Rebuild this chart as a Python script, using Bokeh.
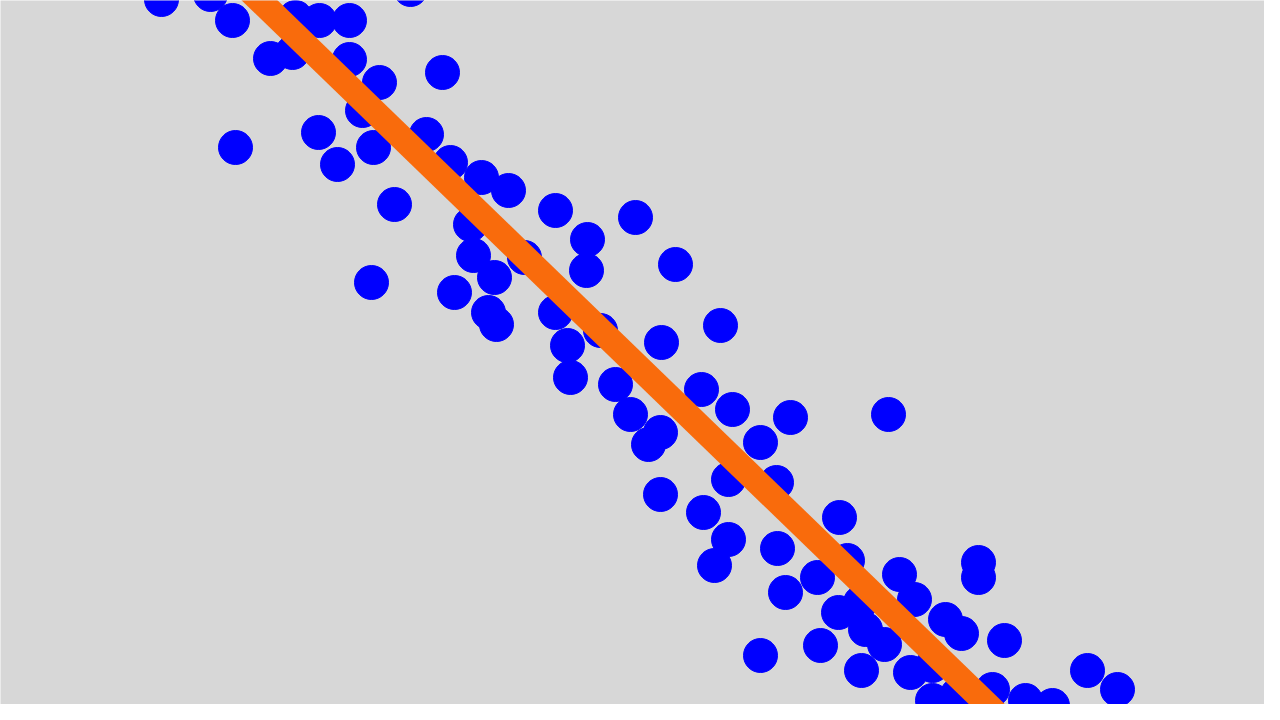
from bokeh.plotting import figure
from bokeh.models import Range1d, ColumnDataSource
from bokeh.embed import file_html
from bokeh.resources import INLINE

# Observed data (arbitrary units)
x_vals = [1.69, 2.18, 2.40, 2.78, 3.00, 3.03, 3.27, 3.57, 3.57, 3.87, 4.50, 4.18, 3.70,
          2.43, 3.26, 3.45, 3.81, 4.34, 4.58, 4.89, 5.16, 4.02, 4.78, 3.79, 4.81, 5.02,
          4.62, 4.96, 5.04, 5.32, 5.63, 5.95, 5.94, 6.43, 6.83, 5.63, 5.75, 5.78, 6.08,
          6.23, 6.38, 6.69, 7.28, 7.09, 7.40, 6.68, 6.56, 7.98, 7.68, 8.96, 7.36, 7.84,
          6.68, 7.11, 7.36, 7.22, 7.85, 8.47, 8.55, 9.07, 9.86, 9.86, 7.93, 8.25, 9.22,
          8.46, 8.68, 8.73, 8.92, 9.53, 9.69, 10.12, 7.68, 8.28, 8.69, 9.18, 9.40, 9.40,
          9.65, 10.00, 10.33, 10.60, 10.95, 11.25]
y_vals = [7.13, 7.18, 6.92, 6.54, 6.60, 6.95, 6.92, 6.92, 6.53, 6.30, 6.40, 7.23, 6.02,
          5.65, 5.80, 5.48, 5.65, 5.78, 5.50, 5.35, 5.22, 5.08, 4.88, 4.30, 4.57, 4.35,
          4.20, 4.00, 3.88, 4.55, 5.02, 4.73, 4.42, 4.95, 4.48, 4.00, 3.67, 3.35, 3.82,
          3.28, 2.98, 3.70, 3.87, 3.23, 3.03, 2.80, 2.68, 2.95, 2.70, 2.98, 2.33, 2.30,
          2.18, 2.00, 1.73, 1.47, 1.64, 1.95, 1.52, 1.38, 1.50, 1.35, 1.20, 1.35, 1.13,
          1.00, 1.10, 0.83, 0.68, 0.93, 0.79, 0.72, 0.57, 0.67, 0.42, 0.40, 0.47, 0.12,
          0.18, 0.23, 0.12, 0.07, 0.42, 0.23]

# Fitted regression line
fit_intercept = 9.706
fit_slope = -0.9677

X_START, X_END = 0.08, 12.72
Y_START, Y_END = 0.08, 7.12

p = figure(width=1264, height=704, output_backend="svg", toolbar_location=None,
           x_range=Range1d(X_START, X_END), y_range=Range1d(Y_START, Y_END),
           min_border=0, background_fill_color="#d7d7d7", border_fill_color="#d7d7d7")
p.axis.visible = False
p.grid.visible = False
p.outline_line_color = None

src = ColumnDataSource(dict(x=x_vals, y=y_vals))
p.scatter("x", "y", source=src, size=34, fill_color="#0000ff", line_color="#0000ff",
          line_width=1)

line_x = [X_START - 1, X_END + 1]
line_y = [fit_intercept + fit_slope * v for v in line_x]
p.line(line_x, line_y, line_color="#f96b0c", line_width=25, line_cap="butt")

open("out.html", "w").write(file_html(p, INLINE))
